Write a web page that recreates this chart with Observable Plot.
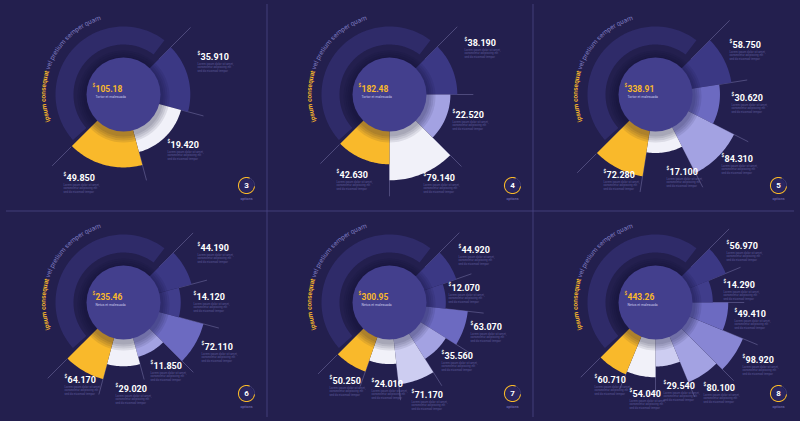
<!DOCTYPE html>
<html>
<head>
<meta charset="utf-8">
<script src="https://cdn.jsdelivr.net/npm/d3@7"></script>
<script src="https://cdn.jsdelivr.net/npm/@observablehq/plot@0.6"></script>
<style>
html,body{margin:0;padding:0;background:#231f4e;overflow:hidden}
#chart svg{display:block}
</style>
</head>
<body>
<div id="chart"></div>
<script>
// ---------------- DATA ----------------
const optionCounts = [3, 4, 5, 6, 7, 8];
const panelValues = [
  [35.910, 19.420, 49.850],
  [38.190, 22.520, 79.140, 42.630],
  [58.750, 30.620, 84.310, 17.100, 72.280],
  [44.190, 14.120, 72.110, 11.850, 29.020, 64.170],
  [44.920, 12.070, 63.070, 35.560, 71.170, 24.010, 50.250],
  [56.970, 14.290, 49.410, 98.920, 80.100, 29.540, 54.040, 60.710]
];
const totalLabels = ["105.18", "182.48", "338.91", "235.46", "300.95", "443.26"];
const centerCaptions = ["Tortor et malesuada", "Tortor et malesuada", "Tortor et malesuada",
                        "Netus et malesuada", "Netus et malesuada", "Netus et malesuada"];
const arcTitleParts = ["ipsum consequat", " vel pretium semper quam"];
const optionsWord = "options";
const descLines = ["Lorem ipsum dolor sit amet,",
                   "consectetur adipiscing elit",
                   "sed do eiusmod tempor"];

// ---------------- LAYOUT & STYLE ----------------
const W = 800, H = 421;
const colX = [123, 389, 655], rowY = [94, 302];
const geom = {hubR: 37, wedgeInner: 30, ringInner: 50, ringOuter: 68,
  ringStart: 228, ringEnd: 397, wedgeStart: 45, wedgeSpan: 180,
  titleR: 78, titleStart: 250, titleSize: 6.6, badgeDX: 123, badgeDY: 91, badgeR: 8};
const labelOffsets = [
  [[74,-35],[44,53],[-60,86]],
  [[75,-49],[63,23],[34,86],[-53,83]],
  [[74,-47],[76,6],[66,67],[11,80],[-52,83]],
  [[74,-52],[70,-3],[78,47],[27,66],[-8,89],[-59,80]],
  [[69,-50],[59,-12],[81,27],[52,56],[22,95],[-18,84],[-60,81]],
  [[71,-54],[68,-15],[79,14],[87,60],[48,88],[8,86],[-26,94],[-61,80]]
];
const C = {bg:"#231f4e", ring:"#2f2b69", hub:"#433f8d", dark:"#3b3884", dark2:"#403d8b",
  medium:"#6c6ac1", mid2:"#8886d4", light:"#a3a2e2", lighter:"#cdcdf1", white:"#f1f1f9",
  yellow:"#f9b92b", lav:"#7f7cc0", sep:"#4a4685", lead:"#a9a7dc", desc:"#5c5999"};
const palettes = {
  3: [C.dark, C.white, C.yellow],
  4: [C.dark, C.light, C.white, C.yellow],
  5: [C.dark, C.medium, C.light, C.white, C.yellow],
  6: [C.dark, C.dark2, C.medium, C.light, C.white, C.yellow],
  7: [C.dark, C.dark2, C.medium, C.light, C.lighter, C.white, C.yellow],
  8: [C.dark, C.dark2, C.medium, C.mid2, C.light, C.lighter, C.white, C.yellow]
};
const FONT = "Roboto, 'DejaVu Sans', sans-serif";

// radius of a wedge from its value
const rScale = d3.scaleLinear().domain([0, 100]).range([51, 95]);
const rad = a => a * Math.PI / 180;
const px = (cx, r, a) => cx + r * Math.sin(rad(a));
const py = (cy, r, a) => cy - r * Math.cos(rad(a));

function arcPoly(id, fill, cx, cy, r0, r1, a0, a1) {
  const n = Math.max(4, Math.ceil(Math.abs(a1 - a0) / 1.5));
  const pts = [];
  for (let k = 0; k <= n; k++) { const a = a0 + (a1 - a0) * k / n; pts.push({id, fill, x: px(cx, r1, a), y: py(cy, r1, a)}); }
  for (let k = n; k >= 0; k--) { const a = a0 + (a1 - a0) * k / n; pts.push({id, fill, x: px(cx, r0, a), y: py(cy, r0, a)}); }
  return pts;
}
function arcLine(id, cx, cy, r, a0, a1) {
  const n = Math.max(4, Math.ceil(Math.abs(a1 - a0) / 3));
  return d3.range(n + 1).map(k => { const a = a0 + (a1 - a0) * k / n; return {id, x: px(cx, r, a), y: py(cy, r, a)}; });
}

const ctx = document.createElement("canvas").getContext("2d");

const ringPts = [], wedgePts = [], hubs = [], leads = [], valueLabels = [], descs = [],
      totals = [], captions = [], titleChars = [], badges = [], badgeArcs = [], badgeRings = [];

panelValues.forEach((vals, p) => {
  const cx = colX[p % 3], cy = rowY[Math.floor(p / 3)];
  const n = vals.length, pal = palettes[optionCounts[p]];
  ringPts.push(...arcPoly("ring" + p, C.ring, cx, cy, geom.ringInner, geom.ringOuter, geom.ringStart, geom.ringEnd));
  const step = geom.wedgeSpan / n;
  const radii = vals.map(v => rScale(v));
  vals.forEach((v, i) => {
    const a0 = geom.wedgeStart + i * step, a1 = a0 + step;
    wedgePts.push(...arcPoly(`w${p}-${i}`, pal[i], cx, cy, geom.wedgeInner, radii[i], a0, a1));
    const [dx, dy] = labelOffsets[p][i];
    valueLabels.push({x: cx + dx, y: cy + dy, text: v.toFixed(3)});
    descLines.forEach((t, j) => descs.push({x: cx + dx, y: cy + dy + 5.5 + j * 3.4, text: t}));
  });
  // leader lines at wedge boundaries
  for (let i = 0; i <= n; i++) {
    const a = geom.wedgeStart + i * step;
    let r0, r1;
    if (i === 0) { r0 = geom.ringInner; r1 = radii[0] + 28; }
    else if (i === n) { r0 = radii[n - 1] + 1; r1 = radii[n - 1] + 28; }
    else { const m = Math.max(radii[i - 1], radii[i]); r0 = Math.min(radii[i - 1], radii[i]); r1 = m + 16; }
    leads.push({x1: px(cx, r0, a), y1: py(cy, r0, a), x2: px(cx, r1, a), y2: py(cy, r1, a)});
  }
  hubs.push({x: cx, y: cy});
  totals.push({x: cx - 31, y: cy - 3, text: totalLabels[p]});
  captions.push({x: cx - 31, y: cy + 3.5, text: centerCaptions[p]});
  // curved title
  let s = 0;
  arcTitleParts.forEach((part, pi) => {
    ctx.font = `${pi === 0 ? 600 : 400} ${geom.titleSize}px Roboto`;
    for (const ch of part) {
      const w = ctx.measureText(ch).width;
      const a = geom.titleStart + (s + w / 2) / geom.titleR * 180 / Math.PI;
      titleChars.push({x: px(cx, geom.titleR, a), y: py(cy, geom.titleR, a), ch, rot: a, part: pi});
      s += w;
    }
  });
  // badge
  const bx = cx + geom.badgeDX, by = cy + geom.badgeDY;
  badges.push({x: bx, y: by, text: String(optionCounts[p])});
  badgeArcs.push(...arcLine("b" + p, bx, by, geom.badgeR, 100, 380));
  badgeRings.push(...arcLine("g" + p, bx, by, geom.badgeR, 20, 100));
});

const chart = Plot.plot({
  width: W, height: H, margin: 0,
  x: {domain: [0, W], range: [0, W], axis: null},
  y: {domain: [0, H], range: [0, H], axis: null},
  color: {type: "identity"},
  style: {background: C.bg, fontFamily: FONT, overflow: "visible"},
  marks: [
    // separators
    Plot.ruleX([266.5, 532.5], {y1: 4, y2: 417, stroke: C.sep, strokeWidth: 0.8}),
    Plot.ruleY([210.5], {x1: 6, x2: 794, stroke: C.sep, strokeWidth: 0.8}),
    // background ring
    Plot.line(ringPts, {x: "x", y: "y", z: "id", fill: "fill", stroke: null}),
    // leader lines
    Plot.link(leads, {x1: "x1", y1: "y1", x2: "x2", y2: "y2", stroke: C.lead, strokeOpacity: 0.55, strokeWidth: 0.6}),
    // wedges
    Plot.line(wedgePts, {x: "x", y: "y", z: "id", fill: "fill", stroke: null}),
    // hub shadow
    ...[46, 44, 42, 40].map(r => Plot.dot(hubs, {x: "x", y: "y", r, dy: 2, fill: "#0c0a2a", fillOpacity: 0.09, stroke: null})),
    Plot.dot(hubs, {x: "x", y: "y", r: geom.hubR, fill: C.hub, stroke: null}),
    // center total
    Plot.text(totals, {x: "x", y: "y", text: () => "$", dy: -4.5, fill: C.yellow, fontSize: 4.5, fontWeight: 700, textAnchor: "start", lineAnchor: "bottom"}),
    Plot.text(totals, {x: "x", y: "y", text: "text", dx: 3, fill: C.yellow, fontSize: 8.5, fontWeight: 700, textAnchor: "start", lineAnchor: "bottom"}),
    Plot.text(captions, {x: "x", y: "y", text: "text", dx: 3, fill: "#c9c8ec", fontSize: 3.4, textAnchor: "start", lineAnchor: "bottom"}),
    // value labels
    Plot.text(valueLabels, {x: "x", y: "y", text: () => "$", dy: -5, fill: "#ffffff", fontSize: 4.5, fontWeight: 700, textAnchor: "start", lineAnchor: "bottom"}),
    Plot.text(valueLabels, {x: "x", y: "y", text: "text", dx: 3, fill: "#ffffff", fontSize: 9, fontWeight: 700, textAnchor: "start", lineAnchor: "bottom"}),
    Plot.text(descs, {x: "x", y: "y", text: "text", fill: C.desc, fontSize: 2.9, textAnchor: "start", lineAnchor: "bottom"}),
    // curved title
    Plot.text(titleChars.filter(d => d.part === 0), {x: "x", y: "y", text: "ch", rotate: "rot", fill: C.yellow, fontSize: geom.titleSize, fontWeight: 600, textAnchor: "middle", lineAnchor: "bottom"}),
    Plot.text(titleChars.filter(d => d.part === 1), {x: "x", y: "y", text: "ch", rotate: "rot", fill: C.lav, fontSize: geom.titleSize, fontWeight: 400, textAnchor: "middle", lineAnchor: "bottom"}),
    // badges
    Plot.dot(badges, {x: "x", y: "y", r: geom.badgeR - 1, fill: "#2a2560", stroke: null}),
    Plot.line(badgeRings, {x: "x", y: "y", z: "id", stroke: "#55528f", strokeWidth: 0.6}),
    Plot.line(badgeArcs, {x: "x", y: "y", z: "id", stroke: C.yellow, strokeWidth: 1.1}),
    Plot.text(badges, {x: "x", y: "y", text: "text", fill: "#ffffff", fontSize: 8, fontWeight: 700, textAnchor: "middle", lineAnchor: "middle"}),
    Plot.text(badges, {x: "x", y: "y", text: () => optionsWord, dy: 13, fill: C.lav, fontSize: 3.6, textAnchor: "middle", lineAnchor: "middle"})
  ]
});
document.getElementById("chart").append(chart);
</script>
</body>
</html>
